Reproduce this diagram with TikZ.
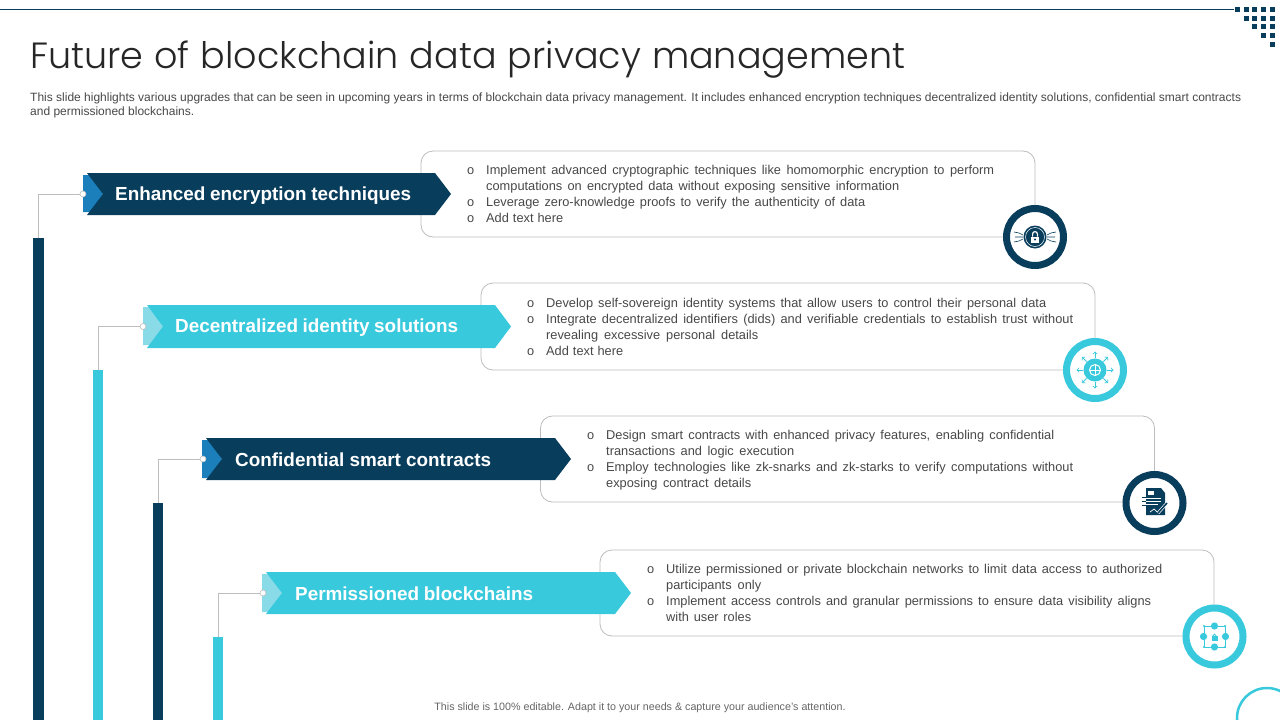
\documentclass[tikz,border=0pt]{standalone}
\usepackage{fontspec}
\setmainfont{Liberation Sans}
\newfontfamily\titlefont[UprightFont={* Light}]{Poppins}
\usetikzlibrary{calc,positioning}
\definecolor{navy}{HTML}{083D5C}
\definecolor{aqua}{HTML}{38C9DD}
\definecolor{navyback}{HTML}{1B7FBC}
\definecolor{aquaback}{HTML}{8ADBE8}
\definecolor{bodygray}{HTML}{484848}
\definecolor{edgegray}{HTML}{BDBDBD}
\newcommand{\lineto}[2]{\hbox to #1pt{#2}}
\newcommand{\bulletline}[2]{\hbox to 19pt{o\hss}\hbox to #1pt{#2}}
\tikzstyle{connector} = [draw=edgegray, line width=0.8pt]
\tikzstyle{infobox} = [draw=edgegray, line width=0.8pt, rounded corners=12pt, minimum width=614pt, inner sep=0pt]
\tikzstyle{bodytext} = [anchor=north west, inner sep=0pt, align=left, text=bodygray, font=\fontsize{12.8}{16}\selectfont]
\tikzstyle{bannertext} = [anchor=west, inner sep=0pt, text=white, font=\fontsize{18.9}{24}\selectfont\bfseries]
\tikzstyle{joint} = [circle, draw=edgegray, fill=white, line width=0.6pt, minimum size=6pt, inner sep=0pt]
\tikzstyle{badge} = [circle, fill=white, line width=7pt, minimum size=57pt, inner sep=0pt]
\tikzstyle{griddot} = [fill=navy, minimum size=5pt, inner sep=0pt]
\begin{document}
\begin{tikzpicture}[x=1pt,y=-1pt]
    \clip (0,0) rectangle (1280,720);
    \fill[white] (0,0) rectangle (1280,720);
    % header
    \coordinate (rule-start) at (0,9.5);
    \node (dot-1-1) [griddot] at (1237,9.5) {};
    \node (dot-1-2) [griddot] at (1246,9.5) {};
    \node (dot-1-3) [griddot] at (1254.5,9.5) {};
    \node (dot-1-4) [griddot] at (1263,9.5) {};
    \node (dot-1-5) [griddot] at (1272,9.5) {};
    \node (dot-2-2) [griddot] at (1246,18) {};
    \node (dot-2-3) [griddot] at (1254.5,18) {};
    \node (dot-2-4) [griddot] at (1263,18) {};
    \node (dot-2-5) [griddot] at (1272,18) {};
    \node (dot-3-3) [griddot] at (1254.5,26.5) {};
    \node (dot-3-4) [griddot] at (1263,26.5) {};
    \node (dot-3-5) [griddot] at (1272,26.5) {};
    \node (dot-4-4) [griddot] at (1263,35) {};
    \node (dot-4-5) [griddot] at (1272,35) {};
    \node (dot-5-5) [griddot] at (1272,44) {};
    \draw [navy, line width=1pt] (rule-start) -- (dot-1-1);
    \node (title) [anchor=base west, inner sep=0pt, text=black!85, font=\fontsize{36.5}{44}\selectfont\titlefont] at (30,68) {\hbox to 875pt{Future of blockchain data privacy management}};
    \node (intro) [anchor=north west, inner sep=0pt, align=left, text=bodygray, font=\fontsize{12}{14}\selectfont] at (30,92.5) {\lineto{1211}{This slide highlights various upgrades that can be seen in upcoming years in terms of blockchain data privacy management. It includes enhanced encryption techniques decentralized identity solutions, confidential smart contracts}\\and permissioned blockchains.};
    \node (footer) [inner sep=0pt, text=black!60, font=\fontsize{10.7}{12}\selectfont] at (640,708) {This slide is 100\% editable.  Adapt it to your needs \& capture your audience's attention.};
    \draw [aqua, line width=2.5pt] (1267,718) circle (30);

    % bars
    \fill [navy] (33,238) rectangle (44,720);
    \fill [aqua] (93,370) rectangle (103,720);
    \fill [navy] (153,503) rectangle (163,720);
    \fill [aqua] (213,637) rectangle (223,720);
    \coordinate (bar-1) at (38.5,238);
    \coordinate (bar-2) at (98.5,370);
    \coordinate (bar-3) at (158.5,503);
    \coordinate (bar-4) at (218.5,637);

    % boxes
    \node (box-1) [infobox, minimum height=86pt] at (728,194) {};
    \node (box-2) [infobox, minimum height=87pt] at (788,326.5) {};
    \node (box-3) [infobox, minimum height=86pt] at (847.5,459) {};
    \node (box-4) [infobox, minimum height=86pt] at (907,593) {};

    % banners
    \fill [navyback] (83,175) -- (92,175) -- (103,194) -- (92,212) -- (83,212) -- cycle;
    \fill [navy] (87,173) -- (435,173) -- (451,194) -- (435,215) -- (87,215) -- (103,194) -- cycle;
    \fill [aquaback] (143,307) -- (152,307) -- (163,326.5) -- (152,345) -- (143,345) -- cycle;
    \fill [aqua] (147,305) -- (495,305) -- (511,326.5) -- (495,348) -- (147,348) -- (163,326.5) -- cycle;
    \fill [navyback] (202,440) -- (211,440) -- (222,459) -- (211,478) -- (202,478) -- cycle;
    \fill [navy] (206,438) -- (555,438) -- (571,459) -- (555,480) -- (206,480) -- (222,459) -- cycle;
    \fill [aquaback] (262,574) -- (271,574) -- (282,593) -- (271,612) -- (262,612) -- cycle;
    \fill [aqua] (266,572) -- (615,572) -- (631,593) -- (615,614) -- (266,614) -- (282,593) -- cycle;
    \node (banner-1) [bannertext] at (115,195.5) {\hbox to 296pt{Enhanced encryption techniques}};
    \node (banner-2) [bannertext] at (175,328) {\hbox to 283pt{Decentralized identity solutions}};
    \node (banner-3) [bannertext] at (235,460) {\hbox to 256pt{Confidential smart contracts}};
    \node (banner-4) [bannertext] at (295,594) {\hbox to 238pt{Permissioned blockchains}};

    % connectors
    \node (joint-1) [joint] at (83,194) {};
    \node (joint-2) [joint] at (143,326.5) {};
    \node (joint-3) [joint] at (203,459) {};
    \node (joint-4) [joint] at (263,593) {};
    \draw [connector] (joint-1) -| (bar-1);
    \draw [connector] (joint-2) -| (bar-2);
    \draw [connector] (joint-3) -| (bar-3);
    \draw [connector] (joint-4) -| (bar-4);

    % texts
    \node (text-1) [bodytext] at (467,165.5) {\bulletline{508}{Implement advanced cryptographic techniques like homomorphic encryption to perform}\\
        \hbox to 19pt{}\lineto{413}{computations on encrypted data without exposing sensitive information}\\
        \bulletline{379}{Leverage zero-knowledge proofs to verify the authenticity of data}\\
        \bulletline{77}{Add text here}};
    \node (text-2) [bodytext] at (527,298.5) {\bulletline{500}{Develop self-sovereign identity systems that allow users to control their personal data}\\
        \bulletline{527}{Integrate decentralized identifiers (dids) and verifiable credentials to establish trust without}\\
        \hbox to 19pt{}\lineto{212}{revealing excessive personal details}\\
        \bulletline{77}{Add text here}};
    \node (text-3) [bodytext] at (587,430.5) {\bulletline{448}{Design smart contracts with enhanced privacy features, enabling confidential}\\
        \hbox to 19pt{}\lineto{188}{transactions and logic execution}\\
        \bulletline{467}{Employ technologies like zk-snarks and zk-starks to verify computations without}\\
        \hbox to 19pt{}\lineto{145}{exposing contract details}};
    \node (text-4) [bodytext] at (647,564.5) {\bulletline{496}{Utilize permissioned or private blockchain networks to limit data access to authorized}\\
        \hbox to 19pt{}\lineto{95}{participants only}\\
        \bulletline{485}{Implement access controls and granular permissions to ensure data visibility aligns}\\
        \hbox to 19pt{}\lineto{85}{with user roles}};

    % badges
    \node (badge-1) [badge, draw=navy] at (1035,237) {};
    \node (badge-2) [badge, draw=aqua] at (1095,370) {};
    \node (badge-3) [badge, draw=navy] at (1154.5,503) {};
    \node (badge-4) [badge, draw=aqua] at (1214.5,636.5) {};

    % lock icon
    \fill [navy] (badge-1) circle (11.5);
    \draw [white, line width=0.5pt] (badge-1) circle (9.5);
    \fill [white] ($(badge-1)+(-4,-0.5)$) rectangle ($(badge-1)+(4,6)$);
    \draw [white, line width=1.2pt] ($(badge-1)+(-2.4,-0.5)$) -- ($(badge-1)+(-2.4,-3)$) arc (180:360:2.4) -- ($(badge-1)+(2.4,-0.5)$);
    \fill [navy] ($(badge-1)+(0,2.5)$) circle (1.1);
    \draw [navy, line width=0.6pt] ($(badge-1)+(-12,0)$) -- ($(badge-1)+(-20,0)$) ($(badge-1)+(-12,-2)$) -- ($(badge-1)+(-16,-4)$) -- ($(badge-1)+(-21,-5)$) ($(badge-1)+(-12,2)$) -- ($(badge-1)+(-16,4)$) -- ($(badge-1)+(-21,5)$);
    \draw [navy, line width=0.6pt] ($(badge-1)+(12,0)$) -- ($(badge-1)+(20,0)$) ($(badge-1)+(12,-2)$) -- ($(badge-1)+(16,-4)$) -- ($(badge-1)+(21,-5)$) ($(badge-1)+(12,2)$) -- ($(badge-1)+(16,4)$) -- ($(badge-1)+(21,5)$);

    % globe icon
    \fill [aqua] (badge-2) circle (11.5);
    \draw [white, line width=1pt] (badge-2) circle (5.5);
    \draw [white, line width=0.7pt] ($(badge-2)+(-5.5,0)$) -- ($(badge-2)+(5.5,0)$) ($(badge-2)+(0,-5.5)$) -- ($(badge-2)+(0,5.5)$);
    \foreach \ang in {0,45,...,315} {
        \draw [aqua, line width=0.9pt, -to] ($(badge-2)+(\ang:12)$) -- ($(badge-2)+(\ang:18.5)$);
    }

    % contract icon
    \fill [navy] (1146,488) -- (1161,488) -- (1165,493) -- (1165,515) -- (1146,515) -- cycle;
    \fill [white] (1148,491) rectangle (1154,495);
    \draw [white, line width=0.7pt] (1146,498) -- (1161,498) (1146,501) -- (1161,501) (1146,504) -- (1158,504);
    \draw [white, line width=0.7pt] (1150,512) -- (1154,509) -- (1158,513);
    \draw [white, line width=3pt] (1158,513) -- (1167,503);
    \draw [navy, line width=1.6pt] (1158,513) -- (1167,503);
    \draw [navy, line width=0.6pt] (1142,497) -- (1146,497) (1142,501) -- (1146,501) (1142,505) -- (1146,505);

    % blockchain icon
    \draw [aqua, line width=0.7pt] (1204,626) rectangle (1225,647);
    \fill [aqua] (1214.5,626) circle (3.6);
    \fill [aqua] (1214.5,647) circle (3.6);
    \fill [aqua] (1203.5,636.5) circle (3.6);
    \fill [aqua] (1225.5,636.5) circle (3.6);
    \fill [aqua] (1211.5,636) rectangle (1217.5,641);
    \draw [aqua, line width=0.8pt] (1212.7,636) arc (180:360:1.8);
    \fill [aqua] (1204,626) circle (1.2);
    \fill [aqua] (1225,626) circle (1.2);
    \fill [aqua] (1204,647) circle (1.2);
    \fill [aqua] (1225,647) circle (1.2);
\end{tikzpicture}
\end{document}
